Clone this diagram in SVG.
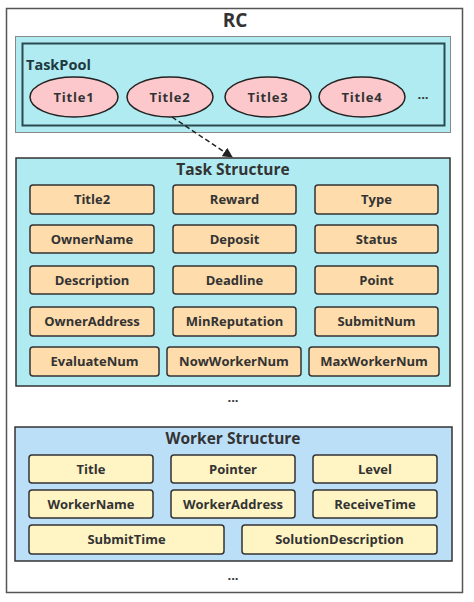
<svg xmlns="http://www.w3.org/2000/svg" width="474" height="602" viewBox="0 0 474 602">
<style>
text{font-family:"Open Sans","Noto Sans","DejaVu Sans",sans-serif;font-weight:bold;fill:#333;text-anchor:middle}
.ttl{font-size:15.5px}
.f{font-size:13px}
.e{font-size:13px;letter-spacing:0.8px}
.el{fill:#fcc8cc;stroke:#222;stroke-width:1.5}
.tf{fill:#fedcac;stroke:#333;stroke-width:1.5}
.wf{fill:#fff5c4;stroke:#333;stroke-width:1.5}
</style>
<defs>
<marker id="ah" markerWidth="10" markerHeight="10" refX="9" refY="5" orient="auto" markerUnits="userSpaceOnUse">
<path d="M0,0 L10,5 L0,10 Z" fill="#222"/>
</marker>
</defs>
<rect x="0" y="0" width="474" height="602" fill="#fff"/>
<g id="RC">
<rect x="6.5" y="8.5" width="456" height="584" fill="#fff" stroke="#555" stroke-width="1.5"/>
<text x="235" y="27" style="font-size:19px">RC</text>
</g>
<g id="TaskPool">
<rect x="15.5" y="36.5" width="435" height="96" fill="#b0ebf1" stroke="#888" stroke-width="1"/>
<rect x="22.5" y="43.5" width="422" height="82" fill="none" stroke="#2a4a50" stroke-width="2"/>
<text x="26" y="70" style="font-size:14.5px;text-anchor:start;fill:#1e3a40">TaskPool</text>
</g>
<g id="Title1"><ellipse class="el" cx="74" cy="97" rx="44" ry="20"/><text class="e" x="74" y="101.5">Title1</text></g>
<g id="Title2"><ellipse class="el" cx="170" cy="97" rx="43" ry="20"/><text class="e" x="170" y="101.5">Title2</text></g>
<g id="Title3"><ellipse class="el" cx="268" cy="97" rx="43" ry="20"/><text class="e" x="268" y="101.5">Title3</text></g>
<g id="Title4"><ellipse class="el" cx="362" cy="97" rx="43" ry="20"/><text class="e" x="362" y="101.5">Title4</text></g>
<text class="f" x="423" y="99">...</text>
<g id="connectors">
<path d="M172,117 L232,157" fill="none" stroke="#222" stroke-width="1.5" stroke-dasharray="5,3" marker-end="url(#ah)"/>
</g>
<g id="TaskStructure">
<rect x="16" y="158" width="434" height="228" fill="#b0ebf1" stroke="#333" stroke-width="1.5"/>
<text class="ttl" x="233" y="175">Task Structure</text>
</g>
<g id="tf-Title2"><rect class="tf" x="30" y="185" width="124" height="29" rx="3"/><text class="f" x="92" y="204">Title2</text></g>
<g id="tf-Reward"><rect class="tf" x="173" y="185" width="123" height="29" rx="3"/><text class="f" x="234.5" y="204">Reward</text></g>
<g id="tf-Type"><rect class="tf" x="315" y="185" width="123" height="29" rx="3"/><text class="f" x="376.5" y="204">Type</text></g>
<g id="tf-OwnerName"><rect class="tf" x="30" y="225" width="124" height="28" rx="3"/><text class="f" x="92" y="243.5">OwnerName</text></g>
<g id="tf-Deposit"><rect class="tf" x="173" y="225" width="123" height="28" rx="3"/><text class="f" x="234.5" y="243.5">Deposit</text></g>
<g id="tf-Status"><rect class="tf" x="315" y="225" width="123" height="28" rx="3"/><text class="f" x="376.5" y="243.5">Status</text></g>
<g id="tf-Description"><rect class="tf" x="30" y="266" width="124" height="28" rx="3"/><text class="f" x="92" y="284.5">Description</text></g>
<g id="tf-Deadline"><rect class="tf" x="173" y="266" width="123" height="28" rx="3"/><text class="f" x="234.5" y="284.5">Deadline</text></g>
<g id="tf-Point"><rect class="tf" x="315" y="266" width="123" height="28" rx="3"/><text class="f" x="376.5" y="284.5">Point</text></g>
<g id="tf-OwnerAddress"><rect class="tf" x="30" y="307" width="124" height="29" rx="3"/><text class="f" x="92" y="326">OwnerAddress</text></g>
<g id="tf-MinReputation"><rect class="tf" x="173" y="307" width="123" height="29" rx="3"/><text class="f" x="234.5" y="326">MinReputation</text></g>
<g id="tf-SubmitNum"><rect class="tf" x="315" y="307" width="123" height="29" rx="3"/><text class="f" x="376.5" y="326">SubmitNum</text></g>
<g id="tf-EvaluateNum"><rect class="tf" x="30" y="347" width="129" height="29" rx="3"/><text class="f" x="94.5" y="366">EvaluateNum</text></g>
<g id="tf-NowWorkerNum"><rect class="tf" x="167" y="347" width="134" height="29" rx="3"/><text class="f" x="234" y="366">NowWorkerNum</text></g>
<g id="tf-MaxWorkerNum"><rect class="tf" x="309" y="347" width="130" height="29" rx="3"/><text class="f" x="374" y="366">MaxWorkerNum</text></g>
<text class="f" x="233" y="402">...</text>
<g id="WorkerStructure">
<rect x="15" y="427" width="437" height="134" fill="#bcdff8" stroke="#333" stroke-width="1.5"/>
<text class="ttl" x="233" y="444">Worker Structure</text>
</g>
<g id="wf-Title"><rect class="wf" x="29" y="455" width="124" height="28" rx="3"/><text class="f" x="91" y="473.5">Title</text></g>
<g id="wf-Pointer"><rect class="wf" x="171" y="455" width="124" height="28" rx="3"/><text class="f" x="233" y="473.5">Pointer</text></g>
<g id="wf-Level"><rect class="wf" x="313" y="455" width="124" height="28" rx="3"/><text class="f" x="375" y="473.5">Level</text></g>
<g id="wf-WorkerName"><rect class="wf" x="29" y="490" width="124" height="28" rx="3"/><text class="f" x="91" y="508.5">WorkerName</text></g>
<g id="wf-WorkerAddress"><rect class="wf" x="171" y="490" width="124" height="28" rx="3"/><text class="f" x="233" y="508.5">WorkerAddress</text></g>
<g id="wf-ReceiveTime"><rect class="wf" x="313" y="490" width="124" height="28" rx="3"/><text class="f" x="375" y="508.5">ReceiveTime</text></g>
<g id="wf-SubmitTime"><rect class="wf" x="29" y="525" width="195" height="29" rx="3"/><text class="f" x="126.5" y="544">SubmitTime</text></g>
<g id="wf-SolutionDescription"><rect class="wf" x="242" y="525" width="195" height="29" rx="3"/><text class="f" x="339.5" y="544">SolutionDescription</text></g>
<text class="f" x="233" y="580">...</text>
</svg>
